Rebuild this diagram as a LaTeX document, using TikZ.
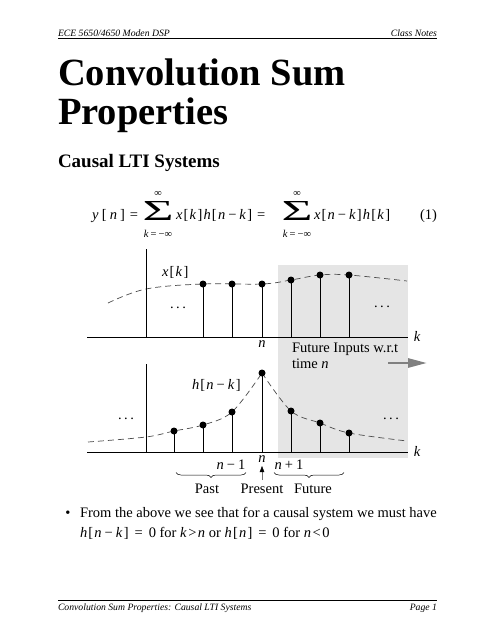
\documentclass[tikz,border=0pt]{standalone}
\usepackage{fontspec}
\setmainfont{Liberation Serif}
\usetikzlibrary{arrows.meta,decorations.pathreplacing}
\newcommand{\bodyfs}{\fontsize{14.5}{17}\selectfont}
\newcommand{\smallfs}{\fontsize{10.5}{12}\selectfont}
\newcommand{\hdrfs}{\fontsize{9.7}{11}\selectfont\itshape}
\newcommand{\gp}{\hspace{1.2pt}}
\newcommand{\mgp}{\hspace{3pt}}
\newcommand{\bigsum}{\resizebox*{31pt}{19pt}{Σ}}
\begin{document}
\begin{tikzpicture}[x=1pt,y=-1pt,
  every node/.style={inner sep=0pt, outer sep=0pt},
  txt/.style={font=\bodyfs, anchor=base west},
  ctxt/.style={font=\bodyfs, anchor=base},
  hdr/.style={font=\hdrfs},
  axisline/.style={line width=0.9pt},
  stemline/.style={line width=0.9pt},
  sdot/.style={circle, fill=black, minimum size=7pt, inner sep=0pt},
  dashcurve/.style={black!70, line width=0.7pt, dash pattern=on 6pt off 4pt},
  rulel/.style={line width=0.8pt}]
\useasboundingbox (0,0) rectangle (495,640);
\fill[white] (0,0) rectangle (495,640);

% header
\node[hdr, anchor=base west] (hl) at (58,36) {ECE 5650/4650 Moden DSP};
\node[hdr, anchor=base east] (hr) at (437,36) {Class Notes};
\coordinate (hra) at (58,38.5); \coordinate (hrb) at (437,38.5);
\draw[rulel] (hra) -- (hrb);

% title
\node[font=\fontsize{38.5}{40}\selectfont\bfseries, anchor=base west] (t1) at (58,85) {Convolution Sum};
\node[font=\fontsize{38.5}{40}\selectfont\bfseries, anchor=base west] (t2) at (58,124) {Properties};
\node[font=\fontsize{19}{22}\selectfont\bfseries, anchor=base west] (sec) at (58,167) {Causal LTI Systems};

% equation
\node[txt] (lhs) at (92,219) {\textit{y}\hspace{3.5pt}[\hspace{3pt}\textit{n}\hspace{3pt}]\hspace{5pt}=};
\node (s1) at (158,211) {\bigsum};
\node[font=\smallfs] (s1t) at (158,194) {∞};
\node[font=\smallfs] (s1b) at (158,234) {\textit{k}\hspace{2pt}=\hspace{2pt}−∞};
\node[txt] (term1) at (176,219) {\textit{x}\gp[\gp\textit{k}\gp]\gp\textit{h}\gp[\gp\textit{n}\mgp−\mgp\textit{k}\gp]\hspace{5pt}=};
\node (s2) at (297,211) {\bigsum};
\node[font=\smallfs] (s2t) at (297,194) {∞};
\node[font=\smallfs] (s2b) at (297,234) {\textit{k}\hspace{2pt}=\hspace{2pt}−∞};
\node[txt] (term2) at (314,219) {\textit{x}\gp[\gp\textit{n}\mgp−\mgp\textit{k}\gp]\gp\textit{h}\gp[\gp\textit{k}\gp]};
\node[font=\bodyfs, anchor=base east] (eqn) at (437,219) {(1)};

% gray future region
\fill[black!10] (278,265) rectangle (408,458);

% upper plot
\draw[dashcurve] plot[smooth, tension=0.6] coordinates {(108,303) (146,289) (203,284) (262,284) (291,280) (320,275) (349,275) (407,281)};
\coordinate (uaxL) at (87,337); \coordinate (uaxR) at (408,337);
\coordinate (uvB) at (146,337); \coordinate (uvT) at (146,249);
\draw[axisline] (uaxL) -- (uaxR);
\draw[axisline] (uvB) -- (uvT);
\foreach \px/\py/\i in {203/284/1, 232/284/2, 262/284/3, 291/280/4, 320/275/5, 349/275/6}{
  \coordinate (ub\i) at (\px,337);
  \node[sdot] (u\i) at (\px,\py) {};
  \draw[stemline] (ub\i) -- (u\i.center);
}
\node[txt] (xk) at (162,276) {\textit{x}\gp[\gp\textit{k}\gp]};
\node[ctxt] (ud1) at (178,308) {.\hspace{2.5pt}.\hspace{2.5pt}.};
\node[ctxt] (ud2) at (382,307) {.\hspace{2.5pt}.\hspace{2.5pt}.};
\node[font=\bodyfs\itshape] (uk) at (417,336) {k};
\node[ctxt] (un) at (262,347) {\textit{n}};
\node[txt] (fut1) at (292,352) {Future Inputs w.r.t};
\node[txt] (fut2) at (292,368) {time \textit{n}};
\coordinate (ga) at (388,363); \coordinate (gb) at (427,363);
\draw[line width=2.7pt, black!50, -{Triangle[length=19pt,width=9pt]}] (ga) -- (gb);

% lower plot
\draw[dashcurve] plot[smooth, tension=0.55] coordinates {(88,442) (146,437) (174,431) (203,425) (232,412) (262,373)};
\draw[dashcurve] plot[smooth, tension=0.55] coordinates {(262,373) (291,411) (320,423) (349,433) (407,441)};
\coordinate (laxL) at (87,452); \coordinate (laxR) at (408,452);
\coordinate (lvB) at (146,452); \coordinate (lvT) at (146,364);
\draw[axisline] (laxL) -- (laxR);
\draw[axisline] (lvB) -- (lvT);
\foreach \px/\py/\i in {174/431/1, 203/425/2, 232/412/3, 262/373/4, 291/411/5, 320/423/6, 349/433/7}{
  \coordinate (lb\i) at (\px,452);
  \node[sdot] (l\i) at (\px,\py) {};
  \draw[stemline] (lb\i) -- (l\i.center);
}
\node[txt] (hnk) at (192,389) {\textit{h}\gp[\gp\textit{n}\mgp−\mgp\textit{k}\gp]};
\node[ctxt] (ld1) at (126,419) {.\hspace{2.5pt}.\hspace{2.5pt}.};
\node[ctxt] (ld2) at (391,419) {.\hspace{2.5pt}.\hspace{2.5pt}.};
\node[font=\bodyfs\itshape] (lk) at (417,451) {k};

\node[ctxt] (ln) at (262,462) {\textit{n}};
\node[ctxt] (lnm) at (231,469) {\textit{n}\mgp−\mgp1};
\node[ctxt] (lnp) at (289,469) {\textit{n}\mgp+\mgp1};
\coordinate (pa) at (262,480); \coordinate (pb) at (262,466);
\draw[black!55, line width=0.5pt, -{Triangle[length=6pt,width=4.5pt,color=black,fill=black]}] (pa) -- (pb);
\coordinate (b1a) at (176,472.5); \coordinate (b1b) at (246,472.5);
\coordinate (b2a) at (274,472.5); \coordinate (b2b) at (344,472.5);
\draw[decorate, decoration={brace, mirror, amplitude=5pt}, line width=0.5pt] (b1a) -- (b1b);
\draw[decorate, decoration={brace, mirror, amplitude=5pt}, line width=0.5pt] (b2a) -- (b2b);
\node[ctxt] (past) at (207,493) {Past};
\node[ctxt] (pres) at (262,493) {Present};
\node[ctxt] (futl) at (313,493) {Future};

% bullet text
\node[ctxt] (bul) at (68,517) {•};
\node[txt] (bl1) at (80,517) {From the above we see that for a causal system we must have};
\node[txt] (bl2) at (80,537) {\textit{h}\gp[\gp\textit{n}\mgp−\mgp\textit{k}\gp]\hspace{6pt}=\hspace{6pt}0 for \textit{k}\hspace{1.5pt}>\hspace{1.5pt}\textit{n} or \textit{h}\gp[\gp\textit{n}\gp]\hspace{6pt}=\hspace{6pt}0 for \textit{n}\hspace{1.5pt}<\hspace{1.5pt}0};

% footer
\coordinate (fra) at (58,600); \coordinate (frb) at (437,600);
\draw[rulel] (fra) -- (frb);
\node[hdr, anchor=base west] (fl) at (58,610) {Convolution Sum Properties: Causal LTI Systems};
\node[hdr, anchor=base east] (fr) at (437,610) {Page 1};
\end{tikzpicture}
\end{document}
